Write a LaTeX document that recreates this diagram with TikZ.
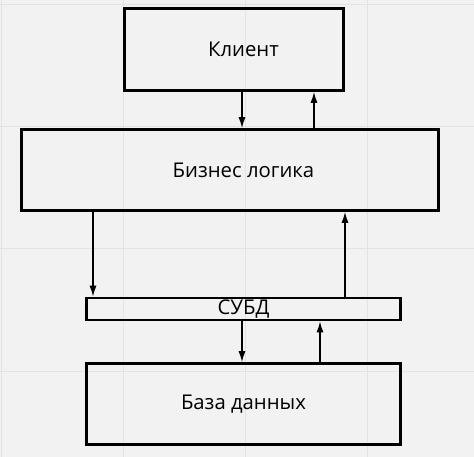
\documentclass[tikz,border=0pt]{standalone}
\usepackage{fontspec}
\setmainfont{Open Sans}
\usetikzlibrary{arrows.meta,calc,positioning}
\colorlet{bggray}{black!5}
\colorlet{gridgray}{black!11}
\newcommand{\txtshift}[1]{\hspace*{#1}}
\tikzset{
    boxsty/.style={draw=black,line width=2.6pt,rectangle,inner sep=0pt,anchor=center,
                   font=\fontsize{20.3}{24}\selectfont,text=black},
    arrsty/.style={-{Latex[length=11pt,width=7pt]},line width=1.4pt,black},
    gridsty/.style={gridgray,line width=1pt},
}

\begin{document}
\begin{tikzpicture}[x=1pt,y=-1pt]
% background and grid
\fill[bggray] (0,0) rectangle (474,457);
\useasboundingbox (0,0) rectangle (474,457);
\foreach \gx in {1,123,245,367} {
    \draw[gridsty] (\gx,0) -- (\gx,457);
}
\foreach \gy in {5,127,249,371} {
    \draw[gridsty] (0,\gy) -- (474,\gy);
}

% boxes
\node[boxsty,minimum width=219pt,minimum height=82pt] (client) at (234,49.5) {\txtshift{19pt}Клиент};
\node[boxsty,minimum width=417pt,minimum height=81pt] (logic) at (230,170) {\txtshift{27pt}Бизнес логика};
\node[boxsty,minimum width=314pt,minimum height=22pt] (dbms) at (243.5,309) {СУБД};
\node[boxsty,minimum width=314pt,minimum height=81pt] (db) at (243.5,404) {База данных};

% connectors
\draw[arrsty] ([xshift=8pt]client.south) -- ([xshift=8pt]client.south |- logic.north);
\draw[arrsty] ([xshift=80pt]client.south |- logic.north) -- ([xshift=80pt]client.south);
\draw[arrsty] ([xshift=-137pt]logic.south) -- ([xshift=-137pt]logic.south |- dbms.north);
\draw[arrsty] ([xshift=115pt]logic.south |- dbms.north) -- ([xshift=115pt]logic.south);
\draw[arrsty] ([xshift=-1.5pt]dbms.south) -- ([xshift=-1.5pt]dbms.south |- db.north);
\draw[arrsty] ([xshift=76.5pt]dbms.south |- db.north) -- ([xshift=76.5pt]dbms.south);
\end{tikzpicture}
\end{document}
